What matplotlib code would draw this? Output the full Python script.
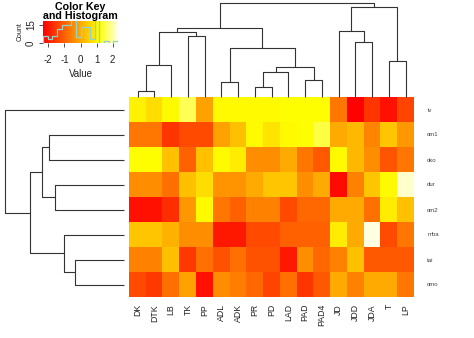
import numpy as np
import matplotlib
matplotlib.use("Agg")
import matplotlib.pyplot as plt
from matplotlib.colors import LinearSegmentedColormap

plt.rcParams['font.family'] = ['Liberation Sans', 'DejaVu Sans']

col_labels = ["DK", "DTK", "LB", "TK", "PP", "ADL", "ADK", "PR", "PD", "LAD",
              "PAD", "PAD4", "JD", "JDD", "JDA", "T", "LP"]
row_labels = ["iv", "om1", "oko", "dur", "om2", "mba", "tai", "omo"]

row_iv  = [1.0, 0.7, 1.1, 1.6, -0.1, 1.1, 1.1, 1.1, 1.1, 1.15, 1.15, 1.15, -0.7, -2.3, -1.6, -2.1, -1.4]
row_om1 = [-0.7, -0.7, -1.6, -1.3, -1.3, -0.1, 0.3, 1.1, 0.8, 1.1, 1.15, 1.5, 0.0, 0.2, -0.5, 0.4, -0.25]
row_oko = [1.15, 1.15, 0.3, -1.0, 0.3, 1.1, 0.9, -0.4, -0.4, 0.0, -0.7, -1.1, 1.1, 0.2, -0.4, -1.15, -0.7]
row_dur = [-0.4, -0.4, -0.8, 0.3, 0.7, -0.3, -0.3, 0.0, 0.4, 0.4, -0.4, 0.0, -2.2, -0.55, 0.4, 1.1, 2.2]
row_om2 = [-2.1, -2.1, -1.7, -0.25, 1.1, -0.7, -1.0, -0.55, -0.55, -1.3, -0.9, -0.9, 0.0, 0.0, -0.8, 0.9, 0.3]
row_mba = [0.4, 0.4, 0.1, -0.4, -0.4, -2.0, -2.0, -1.3, -1.3, -1.0, -1.0, -1.0, 0.9, 0.0, 2.3, -1.3, -0.7]
row_tai = [-0.55, -0.55, 0.3, -1.55, -0.8, -1.2, -0.8, -1.2, -1.2, -2.0, -0.4, -0.9, -0.55, 0.3, -1.1, -1.1, -1.1]
row_omo = [-1.3, -1.55, -0.8, -0.1, -2.1, -0.4, -0.6, -0.9, -1.4, -0.8, -1.6, -1.1, 0.0, -0.55, 0.0, 0.0, -0.7]

# dendrogram merges: (child_a, child_b, height); index < n is a leaf, n+i is merge i
col_merges = [(0, 1, 6), (17, 2, 32), (3, 4, 61), (18, 19, 65),
              (5, 6, 15), (7, 8, 10), (22, 9, 25), (10, 11, 17),
              (23, 24, 30), (21, 25, 49), (20, 26, 69),
              (13, 14, 55), (12, 28, 66), (15, 16, 36), (29, 30, 90),
              (27, 31, 94)]
row_merges = [(1, 2, 75), (3, 4, 69), (8, 9, 82), (6, 7, 49),
              (5, 11, 60), (10, 12, 94), (0, 13, 119)]

key_ticks = [-2, -1, 0, 1, 2]
count_ticks = [0, 15]

data = np.array([row_iv, row_om1, row_oko, row_dur, row_om2, row_mba, row_tai, row_omo])
vmin, vmax = -2.33, 2.33

cmap = LinearSegmentedColormap.from_list(
    "heat", [(0.0, (1, 0, 0)), (0.75, (1, 1, 0)), (1.0, (1, 1, 0.9))])

W, H = 474, 338
fig = plt.figure(figsize=(W / 100, H / 100), dpi=100)

def ax_px(x0, y0, x1, y1):
    return fig.add_axes([x0 / W, 1 - y1 / H, (x1 - x0) / W, (y1 - y0) / H])

hx0, hy0, hx1, hy1 = 129.3, 97, 414, 297
ncol, nrow = len(col_labels), len(row_labels)

# heatmap
ax = ax_px(hx0, hy0, hx1, hy1)
ax.imshow(data, cmap=cmap, vmin=vmin, vmax=vmax, aspect='auto',
          extent=(0, ncol, nrow, 0), interpolation='nearest')
ax.set_xlim(0, ncol)
ax.set_ylim(nrow, 0)
for s in ax.spines.values():
    s.set_visible(False)
ax.set_xticks(np.arange(ncol) + 0.5)
ax.set_xticklabels(col_labels, rotation=90, fontsize=6.3, va='top', color='#222222')
ax.set_yticks(np.arange(nrow) + 0.5)
ax.set_yticklabels(row_labels, fontsize=4.3, color='#444444')
ax.yaxis.tick_right()
ax.tick_params(axis='x', length=0, pad=5)
ax.tick_params(axis='y', length=0, pad=9.5)

def draw_dendro(axd, merges, n, orient):
    pos = {i: (i + 0.5, 0.0) for i in range(n)}
    for k, (a, b, h) in enumerate(merges):
        xa, ha = pos[a]
        xb, hb = pos[b]
        if orient == 'top':
            xs, ys = [xa, xa, xb, xb], [ha, h, h, hb]
        else:
            xs, ys = [ha, h, h, hb], [xa, xa, xb, xb]
        axd.plot(xs, ys, color='#333333', lw=0.8, clip_on=False,
                 solid_capstyle='butt')
        pos[n + k] = ((xa + xb) / 2, h)

# column dendrogram
axc = ax_px(hx0, 3.3, hx1, hy0)
draw_dendro(axc, col_merges, ncol, 'top')
axc.set_xlim(0, ncol)
axc.set_ylim(0, max(m[2] for m in col_merges))
axc.axis('off')

# row dendrogram
axr = ax_px(4.7, hy0, 124, hy1)
draw_dendro(axr, row_merges, nrow, 'left')
axr.set_xlim(max(m[2] for m in row_merges), 0)
axr.set_ylim(nrow, 0)
axr.axis('off')

# color key
ymax = 18.3
axk = ax_px(43, 21, 118, 43)
grad = np.linspace(vmin, vmax, 256).reshape(1, -1)
axk.imshow(grad, cmap=cmap, vmin=vmin, vmax=vmax, aspect='auto',
           extent=(vmin, vmax, 0, ymax), interpolation='bilinear')
counts, edges = np.histogram(data.ravel(), bins=16, range=(vmin, vmax))
xs = np.repeat(edges, 2)[1:-1]
ys = np.repeat(counts, 2)
axk.plot(np.concatenate([[edges[0]], xs, [edges[-1]]]),
         np.concatenate([[0], ys, [0]]), color='#8fd3cf', lw=0.9)
axk.set_xlim(vmin, vmax)
axk.set_ylim(0, ymax)
for s in axk.spines.values():
    s.set_visible(False)
axk.set_xticks(key_ticks)
axk.set_xticklabels([str(t) for t in key_ticks], fontsize=7, color='#222222')
axk.set_yticks(count_ticks)
axk.set_yticklabels([str(t) for t in count_ticks], fontsize=7, rotation=90,
                    va='center', color='#222222')
axk.tick_params(axis='x', length=3, width=0.6, pad=5.5, color='#333333')
axk.tick_params(axis='y', length=3, width=0.6, pad=2, color='#333333')
axk.set_xlabel("Value", fontsize=7, labelpad=3, color='#222222')
axk.set_ylabel("Count", fontsize=5, labelpad=2, color='#222222')

fig.text(80 / W, 1 - 1.5 / H, "Color Key\nand Histogram", ha='center', va='top',
         fontsize=7.7, fontweight='bold', linespacing=0.95)

fig.savefig("out.png", dpi=100)
